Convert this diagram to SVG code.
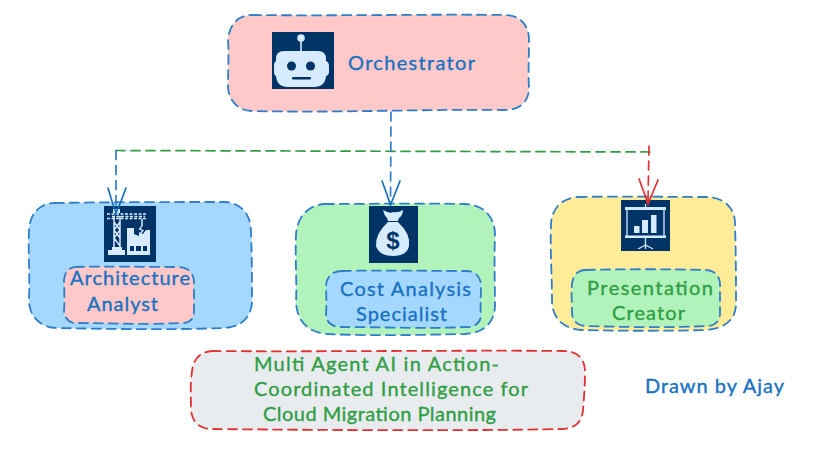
<svg xmlns="http://www.w3.org/2000/svg" width="824" height="454" viewBox="0 0 824 454">
<style>
text{font-family:"Lato","Noto Sans","Liberation Sans",sans-serif;font-size:20px;stroke-width:.35px}
.b{fill:#1971c2;stroke:#1971c2}.g{fill:#2f9e44;stroke:#2f9e44}
.box{stroke-width:1.8;stroke-dasharray:9 6;stroke-linecap:round}
.sb{stroke:#2f7ec9}.sr{stroke:#e03131}
.bg{fill:#003366}.ic{fill:#d6ebff}.is{stroke:#d6ebff;fill:none}
.con{fill:none;stroke-width:1.7;stroke-linecap:round}
.dash{stroke-dasharray:9 6}
</style>
<rect width="824" height="454" fill="#fff"/>
<g id="orchestrator">
<path class="box sb" fill="#ffc9c9" d="M252 15C340 16 430 14 505 15C520 15 529 25 529 40C529 58 528 72 529 88C529 103 518 110 505 110C420 109 340 113 252 111C238 111 229 100 228 88C228 70 229 55 228 40C229 25 238 15 252 15Z"/>
<rect class="bg" x="272" y="32" width="62" height="57"/>
<circle class="ic" cx="301" cy="38" r="3.800"/>
<path class="is" stroke-width="1.600" d="M301 41V51"/>
<path class="ic" d="M284 51H318Q326 51 326 59V61Q329 62 329 66V72Q329 75 326 76Q325 87 314 87H288Q277 87 276 76Q274 75 274 72V66Q274 62 276 61V59Q276 51 284 51Z"/>
<circle fill="#003366" cx="291.500" cy="66" r="4.500"/><circle fill="#003366" cx="310.500" cy="66" r="4.500"/>
<rect fill="#003366" x="292" y="77" width="19" height="2.500" rx="1"/>
<text class="b" x="348" y="70" textLength="127">Orchestrator</text>
</g>
<g id="architecture-analyst">
<path class="box sb" fill="#a5d8ff" d="M55 203C110 202 170 202 225 202C242 203 251 215 251 232C252 260 252 280 252 302C251 320 238 328 222 328C170 330 110 329 58 328C40 328 29 316 29 300C30 275 28 255 29 230C30 213 40 203 55 203Z"/>
<rect class="bg" x="104" y="206" width="52" height="56"/>
<g class="is" stroke-width="1.500">
<path d="M114 216V247M120 216V247M114 222L120 230L114 238L120 246M120 222L114 230L120 238"/>
<path d="M107 214H147M107 218.500H147M112 216.500H145" stroke-dasharray="3 1.500"/>
<path d="M142 219V226"/>
</g>
<path class="ic" d="M113 209H120V213H113Z"/>
<path class="ic" d="M112 247H122V250H125V255H108V250H112Z"/>
<path class="ic" fill-rule="evenodd" d="M127 228H134V234L139 236V232L143 234L146 230H150V255H127ZM130 246V251H134V246ZM136 246V251H141V246ZM143 246V251H147V246Z"/>
<path class="is" stroke-width="1.300" d="M142 226L139.500 229L143 230.500L141 233"/>
<path class="box sb" fill="#ffc9c9" d="M75 267C105 266 145 267 178 267C189 267 194 274 194 282C194 295 194 302 194 312C194 320 188 324 179 323C145 325 105 323 77 323C70 324 64 318 64 311C65 298 64 290 64 280C65 272 68 268 75 267Z"/>
<text class="b" x="70" y="285" textLength="120">Architecture</text>
<text class="b" x="87" y="311" textLength="71">Analyst</text>
</g>
<g id="cost-analysis-specialist">
<path class="box sb" fill="#b2f2bb" d="M325 204C370 204 420 203 465 204C484 205 495 217 495 235C494 260 495 285 495 305C495 324 482 333 465 334C420 335 370 336 328 334C309 333 297 322 296 302C297 280 295 260 296 235C297 217 308 205 325 204Z"/>
<rect class="bg" x="369" y="206" width="49" height="57"/>
<path class="ic" d="M383 210Q390 214 393 212Q398 213 403 210Q403 215 399 218L398 221H388L387 218Q384 215 383 210Z"/>
<path class="ic" d="M388 222H398Q411 234 409 246Q407 256 393 256Q379 256 376 246Q375 234 388 222Z"/>
<text x="393" y="249" text-anchor="middle" style="font-size:24px;font-weight:700;fill:#003366;stroke:none;font-family:'Liberation Sans',sans-serif">$</text>
<path class="box sb" fill="#a5d8ff" d="M342 271C380 270 430 271 467 271C476 271 481 278 481 285C481 298 480 305 481 315C481 323 474 328 466 327C430 329 380 327 340 327C332 327 326 322 326 314C327 300 326 295 326 285C327 276 333 271 342 271Z"/>
<text class="b" x="340" y="296" textLength="131">Cost Analysis</text>
<text class="b" x="356" y="321" textLength="91">Specialist</text>
</g>
<g id="presentation-creator">
<path class="box sb" fill="#ffec99" d="M578 197C620 196 670 197 708 197C726 198 736 210 735 226C736 255 736 280 736 305C735 322 722 329 705 330C670 331 620 331 582 330C563 329 552 318 552 300C552 275 550 250 551 224C552 208 562 198 578 197Z"/>
<rect class="bg" x="621" y="200" width="49" height="51"/>
<g class="is" stroke-width="1.300">
<path d="M627 210V236M664 210V236"/>
<path d="M645.500 238V245M645.500 245L638 249M645.500 245V249M645.500 245L653 249M645.500 204V207"/>
</g>
<rect class="ic" x="625" y="207" width="41" height="3"/>
<rect class="ic" x="625" y="235.500" width="41" height="2.500"/>
<rect class="ic" x="634" y="226" width="5.500" height="7"/>
<rect class="ic" x="642" y="220" width="6" height="13"/>
<rect class="ic" x="651" y="215" width="5.500" height="18"/>
<path class="box sb" fill="#b2f2bb" d="M586 270C620 269 670 269 706 270C715 270 720 277 720 284C720 297 720 305 720 314C720 322 713 327 705 326C670 328 620 327 586 326C577 326 572 320 572 312C572 300 571 295 572 284C573 275 578 270 586 270Z"/>
<text class="g" x="587" y="295" textLength="126">Presentation</text>
<text class="g" x="612" y="320" textLength="73">Creator</text>
</g>
<g id="title">
<path class="box sr" fill="#e9ecef" d="M212 351C300 352 480 350 563 351C577 351 585 358 585 372C585 385 584 398 583 410C582 423 574 429 561 429C480 431 300 430 212 429C198 429 191 420 191 408C191 395 190 385 192 372C193 359 200 352 212 351Z"/>
<text class="g" x="254" y="371" textLength="245">Multi Agent AI in Action-</text>
<text class="g" x="254" y="396" textLength="274">Coordinated Intelligence for</text>
<text class="g" x="263" y="421" textLength="233">Cloud Migration Planning</text>
</g>
<g id="credit"><text class="b" x="645" y="393" textLength="139">Drawn by Ajay</text></g>
<g id="connectors" class="con">
<path class="dash" stroke="#2f9e44" d="M116 150.500L650 152"/>
<path class="dash" stroke="#2f7ec9" d="M116 150.500V213"/>
<path stroke="#1971c2" d="M108 188Q112 202 116 213Q121 202 126 188"/>
<path class="dash" stroke="#2f7ec9" d="M391 112L390.500 204"/>
<path stroke="#1971c2" d="M382 181Q387 194 390.500 205Q395 194 400 181"/>
<path class="dash" stroke="#e03131" d="M649 146L648 202"/>
<path stroke="#e03131" d="M639 179Q644 192 648 204Q653 192 658 180"/>
</g>
</svg>
